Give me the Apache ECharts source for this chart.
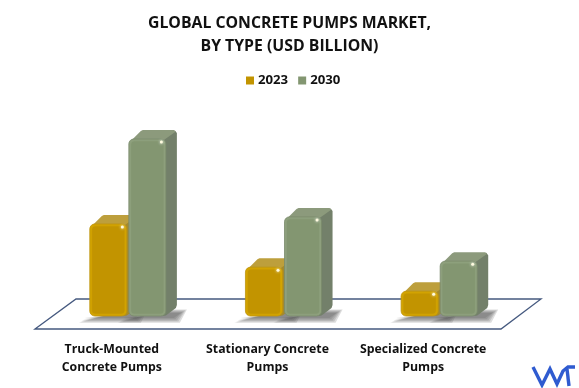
<!DOCTYPE html>
<html><head><meta charset="utf-8">
<style>html,body{margin:0;padding:0;background:#fff}#c{width:579px;height:388px}</style>
<script src="https://cdn.jsdelivr.net/npm/echarts@6/dist/echarts.min.js"></script>
</head><body><div id="c"></div>
<script>
const categories = ['Truck-Mounted\nConcrete Pumps', 'Stationary Concrete\nPumps', 'Specialized Concrete\nPumps'];
const values2023 = [2.6, 1.38, 0.7];
const values2030 = [5.0, 2.8, 1.55];
const FONT = '"Open Sans", sans-serif';
const chart = echarts.init(document.getElementById('c'), null, {renderer:'canvas'});

function softShadow(x, w, by) {
  const layers = [];
  for (const s of [6, 4.5, 3, 1.5, 0]) {
    layers.push({ type: 'polygon',
      shape: {points: [[x-5-s,by+2+s*0.8],[x+w+8+s,by+2+s*0.8],[x+w+15+s,by-3-s*0.6],[x+w,by-3-s*0.6]]},
      style: {fill: 'rgba(85,85,85,0.2)'} });
  }
  return layers;
}
function bar3d(palette, side) {
  return function (params, api) {
    const i = api.value(0);
    const top = api.coord([i, api.value(1)]);
    const base = api.coord([i, 0]);
    const band = api.size([1, 0])[0];
    const w = band * 0.238;
    const x = side < 0 ? top[0] - w - 1 : top[0] + 1;
    const y = top[1], h = base[1] - top[1];
    const dx = 11, dy = 9;
    return {
      type: 'group',
      children: softShadow(x, w, base[1]).concat([
        { type: 'polygon', shape: {points: [[x+w-3,y],[x+w-3,y+h],[x+w,y+h-0.5],[x+w+dx-1,y+h-dy+1],[x+w+dx,y+h-dy-2],[x+w+dx,y-dy+3],[x+w+dx-2,y-dy+0.5],[x+w-2,y]]},
          style: {fill: palette.side} },
        { type: 'polygon', shape: {points: [[x+3,y+1],[x+dx+1,y-dy+1],[x+dx+3,y-dy],[x+w+dx-3,y-dy],[x+w+dx-1,y-dy+1.5],[x+w-2,y+1]]},
          style: {fill: palette.top} },
        { type: 'rect', shape: {x: x, y: y, width: w, height: h, r: 5},
          style: {fill: palette.edge, stroke: palette.rim, lineWidth: 0.8} },
        { type: 'rect', shape: {x: x + 2.5, y: y + 2.5, width: w - 5, height: h - 5, r: 3},
          style: {fill: palette.face, shadowBlur: 2, shadowColor: palette.face} },
        { type: 'circle', shape: {cx: x + w - 4.5, cy: y + 3, r: 1.5},
          style: {fill: '#fffbe0', shadowBlur: 3, shadowColor: '#ffffff'} }
      ])
    };
  };
}
const gold = {face:'#c29400', edge:'#d4a500', rim:'#bd9310', side:'#a58a2c', top:'#bd9f3c'};
const green = {face:'#839671', edge:'#8fa17e', rim:'#7a8a6c', side:'#73806a', top:'#8c9a7c'};

chart.setOption({
  animation: false,
  backgroundColor: '#ffffff',
  title: {
    text: 'GLOBAL CONCRETE PUMPS MARKET,\nBY TYPE (USD BILLION)',
    left: 'center', top: 7,
    textStyle: {fontFamily: FONT, fontWeight: 'bold', fontSize: 15.8, lineHeight: 23, color: '#111'}
  },
  legend: {
    top: 69, left: 241, itemWidth: 8, itemHeight: 8, itemGap: 10, icon: 'rect',
    textStyle: {fontFamily: FONT, fontWeight: 'bold', fontSize: 13.2, color: '#111', padding: [0,0,0,-1]},
    data: ['2023', '2030']
  },
  grid: {left: 50, right: 62, top: 139, bottom: 72},
  xAxis: {
    type: 'category', data: categories,
    axisLine: {show: false}, axisTick: {show: false},
    axisLabel: {interval: 0, margin: 24, lineHeight: 18, fontFamily: FONT, fontWeight: 'bold', fontSize: 12.3, color: '#111', padding: [0, 32, 0, 0]}
  },
  yAxis: {type: 'value', min: 0, max: 5, show: false},
  graphic: [
    { type: 'polygon', z: 0, shape: {points: [[35,329],[76,299],[541,299],[501,329]]},
      style: {fill: 'rgba(255,255,255,0)', stroke: '#45597f', lineWidth: 1.3} },
    { type: 'polyline', z: 5, shape: {points: [[533,367],[542,385],[550,369],[557,384],[563,371],[568,367],[575,367]]},
      style: {fill: 'none', stroke: '#2f5bd0', lineWidth: 3.4} },
    { type: 'line', z: 5, shape: {x1: 567, y1: 369, x2: 569, y2: 386},
      style: {stroke: '#2f5bd0', lineWidth: 3.4} }
  ],
  series: [
    {name: '2023', type: 'custom', itemStyle: {color: gold.face}, renderItem: bar3d(gold, -1),
     encode: {x: 0, y: 1}, data: values2023.map((v, i) => [i, v]), z: 2},
    {name: '2030', type: 'custom', itemStyle: {color: green.face}, renderItem: bar3d(green, 1),
     encode: {x: 0, y: 1}, data: values2030.map((v, i) => [i, v]), z: 3}
  ]
});
</script></body></html>
